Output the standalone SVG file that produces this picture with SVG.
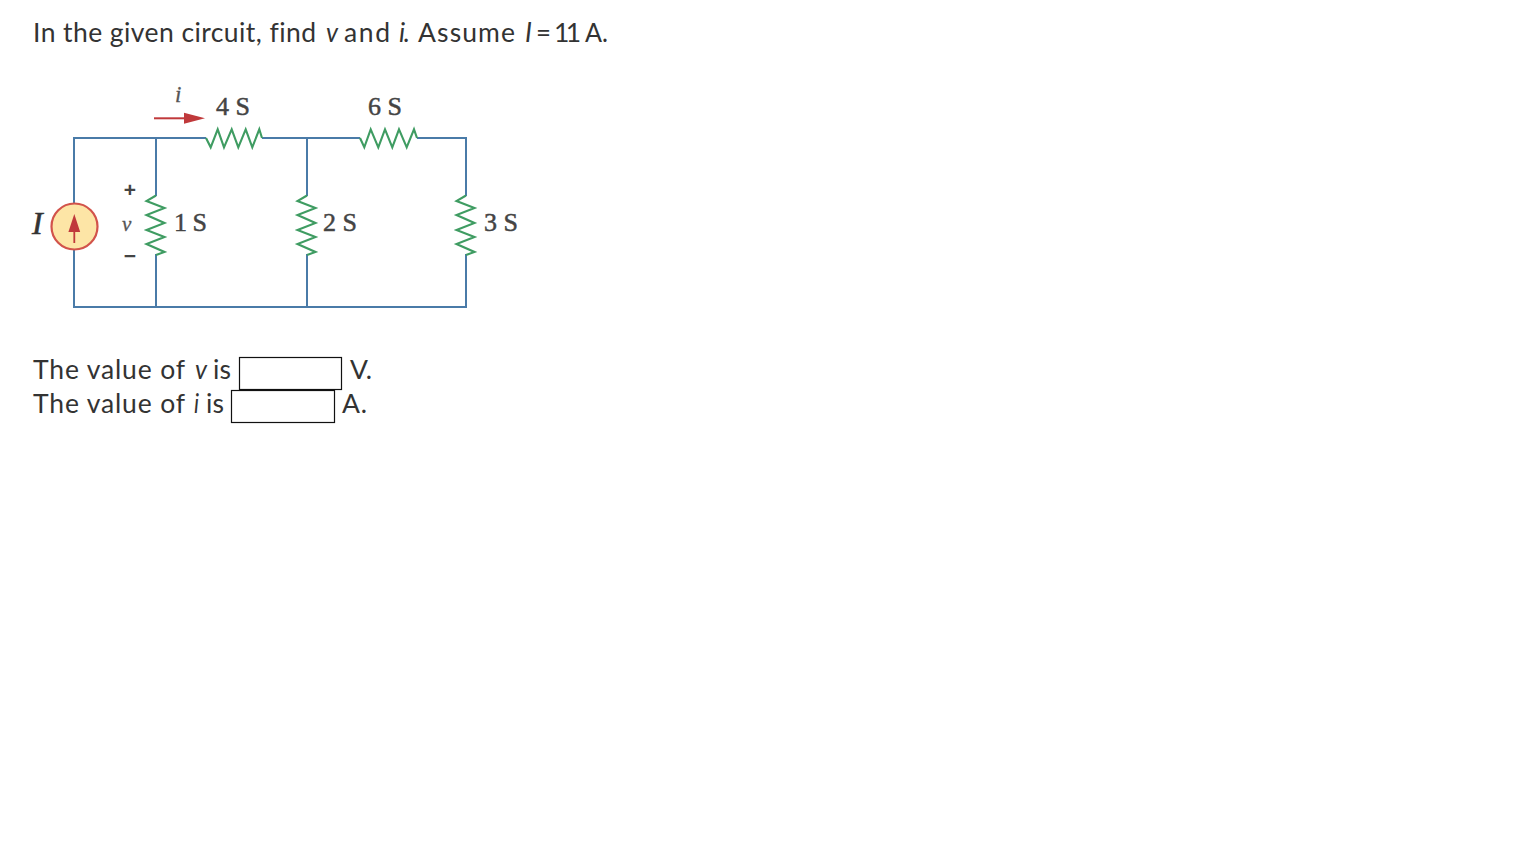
<svg xmlns="http://www.w3.org/2000/svg" width="1536" height="864" viewBox="0 0 1536 864">
<style>
.t{font-family:"Lato","Open Sans",sans-serif;font-size:26.500px;fill:#333;font-variant-ligatures:none}
.it{font-style:italic}
.l{font-family:"Liberation Serif",serif;font-size:26px;fill:#444;stroke:#444;stroke-width:.5}
.m{font-family:"Liberation Serif",serif;font-style:italic;fill:#555;stroke:#555;stroke-width:.3}
.s{font-family:"Liberation Sans",sans-serif;font-weight:bold;fill:#444;text-anchor:middle}
.w{fill:none;stroke:#4a7ba8;stroke-width:2}
.r{fill:none;stroke:#3f9c62;stroke-width:2.100;stroke-linejoin:miter}
.box{fill:#fff;stroke:#111;stroke-width:1.200}
</style>
<defs>
<polyline id="rv" class="r" points="0,-30.500 -9.500,-25 8.500,-18 -9.500,-11 8.500,-3 -9.500,4 8.500,11 -9.500,18 8.500,26 0,29"/>
</defs>
<rect width="1536" height="864" fill="#fff"/>
<g id="question">
<text class="t" x="33" y="42" textLength="283">In the given circuit, find</text>
<text class="t it" x="326" y="42" textLength="12" lengthAdjust="spacingAndGlyphs">v</text>
<text class="t" x="344" y="42" textLength="46">and</text>
<text class="t it" x="399" y="42" textLength="11">i.</text>
<text class="t" x="418" y="42" textLength="97">Assume</text>
<text class="t it" x="525" y="42" textLength="7" lengthAdjust="spacingAndGlyphs">I</text>
<text class="t" x="536" y="42" textLength="15" lengthAdjust="spacingAndGlyphs">=</text>
<text class="t" x="554" y="42" style="letter-spacing:-3.500px">11</text>
<text class="t" x="585" y="42" textLength="23" lengthAdjust="spacingAndGlyphs">A.</text>
</g>
<g id="connectors">
<path class="w" d="M74 204V138H206M262 138H360M417 138H466V196M466 254V307H74V250M156 138V196M156 254V307M307 138V196M307 254V307"/>
<path d="M154 118.300H186" stroke="#c0393b" stroke-width="2" fill="none"/>
<path d="M184 112.800L205 118.300L184 123.800Z" fill="#c0393b"/>
</g>
<g id="source-I">
<circle cx="74.500" cy="226.500" r="23" fill="#fde5a6" stroke="#d2534b" stroke-width="2.200"/>
<path d="M74.300 214L80.200 232H75.200V243H73.400V232H68.400Z" fill="#c0393b"/>
<text class="m" x="32" y="234" font-size="32" style="fill:#333;stroke:#333;stroke-width:.6">I</text>
</g>
<g id="current-i">
<text class="m" x="175" y="102" font-size="23">i</text>
</g>
<g id="voltage-v">
<text class="s" x="130" y="197" font-size="21">+</text>
<text class="m" x="122" y="231" font-size="21">v</text>
<text class="s" x="130" y="263" font-size="21">−</text>
</g>
<g id="R-4S">
<polyline class="r" points="206,138 210.700,147.300 217.700,129.300 224,147.300 231.700,129.300 238.300,147.300 245.700,129.300 252.300,147.300 259.300,129.300 262,138"/>
<text class="l" x="216" y="115" textLength="34">4 S</text>
</g>
<g id="R-6S">
<polyline class="r" points="360,138 364.300,147.300 370.700,129.300 378.300,147.300 385,129.300 392.300,147.300 399,129.300 406.700,147.300 414,129.300 417,138"/>
<text class="l" x="368" y="115" textLength="34">6 S</text>
</g>
<g id="R-1S">
<use href="#rv" x="156" y="226"/>
<text class="l" x="174" y="231" textLength="33">1 S</text>
</g>
<g id="R-2S">
<use href="#rv" x="307" y="226"/>
<text class="l" x="323" y="231" textLength="34">2 S</text>
</g>
<g id="R-3S">
<use href="#rv" x="466" y="226"/>
<text class="l" x="484" y="231" textLength="34">3 S</text>
</g>
<g id="answer-v">
<text class="t" x="33" y="379" textLength="152">The value of</text>
<text class="t it" x="195" y="379" textLength="12" lengthAdjust="spacingAndGlyphs">v</text>
<text class="t" x="213" y="379" textLength="18">is</text>
<rect class="box" x="239.500" y="357.500" width="102" height="32"/>
<text class="t" x="350" y="379" textLength="22">V.</text>
</g>
<g id="answer-i">
<text class="t" x="33" y="413" textLength="152">The value of</text>
<text class="t it" x="194" y="413" textLength="5" lengthAdjust="spacingAndGlyphs">i</text>
<text class="t" x="206" y="413" textLength="18">is</text>
<rect class="box" x="231.500" y="390.500" width="103" height="32"/>
<text class="t" x="342" y="413" textLength="25">A.</text>
</g>
</svg>
